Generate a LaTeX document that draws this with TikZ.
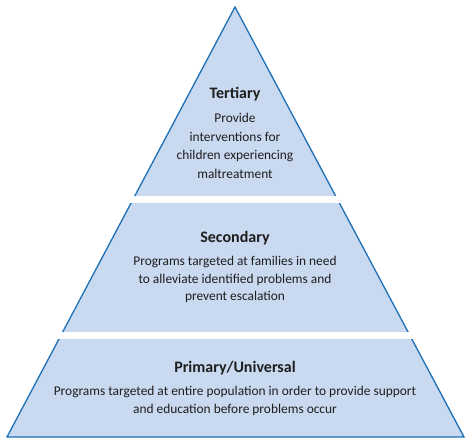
\documentclass[tikz,border=0pt]{standalone}
\usepackage{fontspec}
\setmainfont{Carlito}
\definecolor{tierfill}{RGB}{201,217,240}
\definecolor{tierline}{RGB}{28,112,182}
\definecolor{tiertext}{RGB}{30,30,30}
\begin{document}
\begin{tikzpicture}[x=1pt,y=-1pt,
    tiertitle/.style={font=\fontsize{16}{18}\selectfont\bfseries, text=tiertext, align=center, inner sep=0pt},
    tierbody/.style={font=\fontsize{13.4}{18.5}\selectfont, text=tiertext, align=center, inner sep=0pt}]
    \useasboundingbox (0,0) rectangle (474,446);
    % pyramid
    \draw[fill=tierfill, draw=tierline, line width=1.3pt] (235,7) -- (464,437) -- (7,437) -- cycle;
    % white gaps between the tiers
    \fill[white] (0,196.5) rectangle (474,203);
    \fill[white] (0,332.5) rectangle (474,339);
    % tertiary
    \node[tiertitle] (tertiary) at (235,94) {Tertiary};
    \node[tierbody] (tertiarytext) at (235,146) {Provide\\interventions for\\children experiencing\\maltreatment};
    % secondary
    \node[tiertitle] (secondary) at (235,238) {Secondary};
    \node[tierbody, font=\fontsize{13.4}{17.5}\selectfont] (secondarytext) at (235,279.5) {Programs targeted at families in need\\to alleviate identified problems and\\prevent escalation};
    % primary
    \node[tiertitle] (primary) at (235,368) {Primary/Universal};
    \node[tierbody, font=\fontsize{13.4}{18}\selectfont] (primarytext) at (235,401) {Programs targeted at entire population in order to provide support\\and education before problems occur};
\end{tikzpicture}
\end{document}
